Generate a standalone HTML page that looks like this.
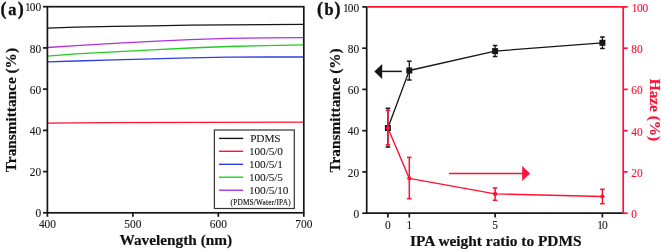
<!DOCTYPE html><html><head><meta charset="utf-8"><style>html,body{margin:0;padding:0;background:#fff;overflow:hidden}svg{display:block;will-change:transform}text{font-family:"Liberation Serif",serif}</style></head><body>
<svg width="661" height="251" viewBox="0 0 661 251">
<rect width="661" height="251" fill="#fff"/>
<polyline points="47.5,123.2 105.0,122.6 200.0,122.4 303.0,122.2" fill="none" stroke="#ff1034" stroke-width="1.3" stroke-linejoin="round"/>
<polyline points="47.4,61.8 76.0,61.0 114.0,59.8 152.0,58.8 190.0,57.9 228.0,57.1 265.0,57.0 303.5,57.0" fill="none" stroke="#3040e0" stroke-width="1.3" stroke-linejoin="round"/>
<polyline points="47.4,56.1 76.0,53.9 114.0,51.8 152.0,49.8 190.0,48.0 228.0,46.5 265.0,45.6 303.5,44.9" fill="none" stroke="#22cc22" stroke-width="1.3" stroke-linejoin="round"/>
<polyline points="47.4,47.5 76.0,45.6 114.0,43.4 152.0,41.4 190.0,39.7 228.0,38.4 265.0,37.9 303.5,37.6" fill="none" stroke="#b030e6" stroke-width="1.3" stroke-linejoin="round"/>
<polyline points="47.4,28.2 76.0,27.2 114.0,26.4 152.0,25.8 190.0,25.2 228.0,24.8 265.0,24.6 303.5,24.4" fill="none" stroke="#161618" stroke-width="1.3" stroke-linejoin="round"/>
<rect x="47.4" y="6.7" width="256.4" height="206.1" fill="none" stroke="#161618" stroke-width="1.7"/>
<line x1="43" y1="212.8" x2="47.4" y2="212.8" stroke="#161618" stroke-width="1.7"/>
<text transform="translate(41.10,217.40) scale(0.94,1)" font-size="12.1" text-anchor="end" fill="#1a1a1a" stroke="#1a1a1a" stroke-width="0.12">0</text>
<line x1="43" y1="171.6" x2="47.4" y2="171.6" stroke="#161618" stroke-width="1.7"/>
<text transform="translate(41.10,176.18) scale(0.94,1)" font-size="12.1" text-anchor="end" fill="#1a1a1a" stroke="#1a1a1a" stroke-width="0.12">20</text>
<line x1="43" y1="130.4" x2="47.4" y2="130.4" stroke="#161618" stroke-width="1.7"/>
<text transform="translate(41.10,134.96) scale(0.94,1)" font-size="12.1" text-anchor="end" fill="#1a1a1a" stroke="#1a1a1a" stroke-width="0.12">40</text>
<line x1="43" y1="89.1" x2="47.4" y2="89.1" stroke="#161618" stroke-width="1.7"/>
<text transform="translate(41.10,93.74) scale(0.94,1)" font-size="12.1" text-anchor="end" fill="#1a1a1a" stroke="#1a1a1a" stroke-width="0.12">60</text>
<line x1="43" y1="47.9" x2="47.4" y2="47.9" stroke="#161618" stroke-width="1.7"/>
<text transform="translate(41.10,52.52) scale(0.94,1)" font-size="12.1" text-anchor="end" fill="#1a1a1a" stroke="#1a1a1a" stroke-width="0.12">80</text>
<line x1="43" y1="6.7" x2="47.4" y2="6.7" stroke="#161618" stroke-width="1.7"/>
<text transform="translate(41.10,11.30) scale(0.94,1)" font-size="12.1" text-anchor="end" fill="#1a1a1a" stroke="#1a1a1a" stroke-width="0.12"><tspan>1</tspan><tspan dx="-0.9">00</tspan></text>
<line x1="47.4" y1="212.8" x2="47.4" y2="216.8" stroke="#161618" stroke-width="1.7"/>
<text transform="translate(47.40,228.10) scale(0.94,1)" font-size="12.1" text-anchor="middle" fill="#1a1a1a" stroke="#1a1a1a" stroke-width="0.12">400</text>
<line x1="132.9" y1="212.8" x2="132.9" y2="216.8" stroke="#161618" stroke-width="1.7"/>
<text transform="translate(132.87,228.10) scale(0.94,1)" font-size="12.1" text-anchor="middle" fill="#1a1a1a" stroke="#1a1a1a" stroke-width="0.12">500</text>
<line x1="218.3" y1="212.8" x2="218.3" y2="216.8" stroke="#161618" stroke-width="1.7"/>
<text transform="translate(218.33,228.10) scale(0.94,1)" font-size="12.1" text-anchor="middle" fill="#1a1a1a" stroke="#1a1a1a" stroke-width="0.12">600</text>
<line x1="303.8" y1="212.8" x2="303.8" y2="216.8" stroke="#161618" stroke-width="1.7"/>
<text transform="translate(303.80,228.10) scale(0.94,1)" font-size="12.1" text-anchor="middle" fill="#1a1a1a" stroke="#1a1a1a" stroke-width="0.12">700</text>
<rect x="214.4" y="130" width="79.9" height="78.5" fill="#fff" stroke="#333" stroke-width="1.2"/>
<line x1="219" y1="138.4" x2="243.2" y2="138.4" stroke="#161618" stroke-width="1.4"/>
<text x="250.2" y="142.1" font-size="11.3" letter-spacing="-0.1" fill="#1a1a1a" stroke="#1a1a1a" stroke-width="0.08">PDMS</text>
<line x1="219" y1="151.3" x2="243.2" y2="151.3" stroke="#ff1034" stroke-width="1.4"/>
<text x="249.0" y="155.0" font-size="11.3" letter-spacing="-0.1" fill="#1a1a1a" stroke="#1a1a1a" stroke-width="0.08">100/5/0</text>
<line x1="219" y1="164.3" x2="243.2" y2="164.3" stroke="#3040e0" stroke-width="1.4"/>
<text x="249.0" y="168.0" font-size="11.3" letter-spacing="-0.1" fill="#1a1a1a" stroke="#1a1a1a" stroke-width="0.08">100/5/1</text>
<line x1="219" y1="177.2" x2="243.2" y2="177.2" stroke="#22cc22" stroke-width="1.4"/>
<text x="249.0" y="180.9" font-size="11.3" letter-spacing="-0.1" fill="#1a1a1a" stroke="#1a1a1a" stroke-width="0.08">100/5/5</text>
<line x1="219" y1="190.2" x2="243.2" y2="190.2" stroke="#b030e6" stroke-width="1.4"/>
<text x="249.0" y="193.9" font-size="11.3" letter-spacing="-0.1" fill="#1a1a1a" stroke="#1a1a1a" stroke-width="0.08">100/5/10</text>
<text x="230.6" y="204.5" font-size="7.3" letter-spacing="0.19" fill="#111" stroke="#111" stroke-width="0.12">(PDMS/Water/IPA)</text>
<text x="175.8" y="245" font-size="15.3" font-weight="bold" text-anchor="middle" fill="#111" stroke="#111" stroke-width="0.2">Wavelength (nm)</text>
<text transform="translate(16,110.1) rotate(-90)" x="0" y="0" font-size="15.3" font-weight="bold" text-anchor="middle" fill="#111" stroke="#111" stroke-width="0.2">Transmittance (%)</text>
<text y="14.5" font-weight="bold" fill="#111" stroke="#111" stroke-width="0.35"><tspan x="0.6" font-size="18">(</tspan><tspan x="8.2" font-size="16.2">a</tspan><tspan x="17.7" font-size="18">)</tspan></text>
<line x1="366.7" y1="213.2" x2="623.2" y2="213.2" stroke="#161618" stroke-width="1.7"/>
<line x1="366.7" y1="6.9" x2="366.7" y2="214.04999999999998" stroke="#161618" stroke-width="1.7"/>
<line x1="366.7" y1="6.9" x2="623.2" y2="6.9" stroke="#ff1034" stroke-width="1.7"/>
<line x1="623.2" y1="6.050000000000001" x2="623.2" y2="214.04999999999998" stroke="#ff1034" stroke-width="1.7"/>
<line x1="362.3" y1="213.2" x2="366.7" y2="213.2" stroke="#161618" stroke-width="1.7"/>
<text transform="translate(359.20,217.80) scale(0.94,1)" font-size="12.1" text-anchor="end" fill="#1a1a1a" stroke="#1a1a1a" stroke-width="0.12">0</text>
<line x1="623.2" y1="213.2" x2="627.7" y2="213.2" stroke="#ff1034" stroke-width="1.7"/>
<text transform="translate(631.20,218.10) scale(0.94,1)" font-size="12.1" text-anchor="start" fill="#ff1034" stroke="#ff1034" stroke-width="0.12">0</text>
<line x1="362.3" y1="171.9" x2="366.7" y2="171.9" stroke="#161618" stroke-width="1.7"/>
<text transform="translate(359.20,176.54) scale(0.94,1)" font-size="12.1" text-anchor="end" fill="#1a1a1a" stroke="#1a1a1a" stroke-width="0.12">20</text>
<line x1="623.2" y1="171.9" x2="627.7" y2="171.9" stroke="#ff1034" stroke-width="1.7"/>
<text transform="translate(631.20,176.84) scale(0.94,1)" font-size="12.1" text-anchor="start" fill="#ff1034" stroke="#ff1034" stroke-width="0.12">20</text>
<line x1="362.3" y1="130.7" x2="366.7" y2="130.7" stroke="#161618" stroke-width="1.7"/>
<text transform="translate(359.20,135.28) scale(0.94,1)" font-size="12.1" text-anchor="end" fill="#1a1a1a" stroke="#1a1a1a" stroke-width="0.12">40</text>
<line x1="623.2" y1="130.7" x2="627.7" y2="130.7" stroke="#ff1034" stroke-width="1.7"/>
<text transform="translate(631.20,135.58) scale(0.94,1)" font-size="12.1" text-anchor="start" fill="#ff1034" stroke="#ff1034" stroke-width="0.12">40</text>
<line x1="362.3" y1="89.4" x2="366.7" y2="89.4" stroke="#161618" stroke-width="1.7"/>
<text transform="translate(359.20,94.02) scale(0.94,1)" font-size="12.1" text-anchor="end" fill="#1a1a1a" stroke="#1a1a1a" stroke-width="0.12">60</text>
<line x1="623.2" y1="89.4" x2="627.7" y2="89.4" stroke="#ff1034" stroke-width="1.7"/>
<text transform="translate(631.20,94.32) scale(0.94,1)" font-size="12.1" text-anchor="start" fill="#ff1034" stroke="#ff1034" stroke-width="0.12">60</text>
<line x1="362.3" y1="48.2" x2="366.7" y2="48.2" stroke="#161618" stroke-width="1.7"/>
<text transform="translate(359.20,52.76) scale(0.94,1)" font-size="12.1" text-anchor="end" fill="#1a1a1a" stroke="#1a1a1a" stroke-width="0.12">80</text>
<line x1="623.2" y1="48.2" x2="627.7" y2="48.2" stroke="#ff1034" stroke-width="1.7"/>
<text transform="translate(631.20,53.06) scale(0.94,1)" font-size="12.1" text-anchor="start" fill="#ff1034" stroke="#ff1034" stroke-width="0.12">80</text>
<line x1="362.3" y1="6.9" x2="366.7" y2="6.9" stroke="#161618" stroke-width="1.7"/>
<text transform="translate(359.20,11.50) scale(0.94,1)" font-size="12.1" text-anchor="end" fill="#1a1a1a" stroke="#1a1a1a" stroke-width="0.12"><tspan>1</tspan><tspan dx="-0.9">00</tspan></text>
<line x1="623.2" y1="6.9" x2="627.7" y2="6.9" stroke="#ff1034" stroke-width="1.7"/>
<text transform="translate(631.20,11.80) scale(0.94,1)" font-size="12.1" text-anchor="start" fill="#ff1034" stroke="#ff1034" stroke-width="0.12"><tspan dx="0.5">1</tspan><tspan dx="-0.5">00</tspan></text>
<line x1="387.9" y1="213.2" x2="387.9" y2="217.5" stroke="#161618" stroke-width="1.7"/>
<text transform="translate(387.90,228.90) scale(0.94,1)" font-size="12.1" text-anchor="middle" fill="#1a1a1a" stroke="#1a1a1a" stroke-width="0.12">0</text>
<line x1="409.3" y1="213.2" x2="409.3" y2="217.5" stroke="#161618" stroke-width="1.7"/>
<text transform="translate(409.35,228.90) scale(0.94,1)" font-size="12.1" text-anchor="middle" fill="#1a1a1a" stroke="#1a1a1a" stroke-width="0.12">1</text>
<line x1="495.1" y1="213.2" x2="495.1" y2="217.5" stroke="#161618" stroke-width="1.7"/>
<text transform="translate(495.15,228.90) scale(0.94,1)" font-size="12.1" text-anchor="middle" fill="#1a1a1a" stroke="#1a1a1a" stroke-width="0.12">5</text>
<line x1="602.4" y1="213.2" x2="602.4" y2="217.5" stroke="#161618" stroke-width="1.7"/>
<text transform="translate(602.40,228.90) scale(0.94,1)" font-size="12.1" text-anchor="middle" fill="#1a1a1a" stroke="#1a1a1a" stroke-width="0.12"><tspan>1</tspan><tspan dx="-0.9">0</tspan></text>
<line x1="387.9" y1="108.3" x2="387.9" y2="147.0" stroke="#161618" stroke-width="1.3"/><line x1="385.6" y1="108.3" x2="390.2" y2="108.3" stroke="#161618" stroke-width="1.5"/><line x1="385.6" y1="147.0" x2="390.2" y2="147.0" stroke="#161618" stroke-width="1.5"/>
<line x1="409.3" y1="61.2" x2="409.3" y2="80.0" stroke="#161618" stroke-width="1.3"/><line x1="407.0" y1="61.2" x2="411.6" y2="61.2" stroke="#161618" stroke-width="1.5"/><line x1="407.0" y1="80.0" x2="411.6" y2="80.0" stroke="#161618" stroke-width="1.5"/>
<line x1="495.1" y1="45.5" x2="495.1" y2="56.5" stroke="#161618" stroke-width="1.3"/><line x1="492.8" y1="45.5" x2="497.4" y2="45.5" stroke="#161618" stroke-width="1.5"/><line x1="492.8" y1="56.5" x2="497.4" y2="56.5" stroke="#161618" stroke-width="1.5"/>
<line x1="602.4" y1="37.0" x2="602.4" y2="48.5" stroke="#161618" stroke-width="1.3"/><line x1="600.1" y1="37.0" x2="604.7" y2="37.0" stroke="#161618" stroke-width="1.5"/><line x1="600.1" y1="48.5" x2="604.7" y2="48.5" stroke="#161618" stroke-width="1.5"/>
<polyline points="387.9,128.0 409.3,70.5 495.1,51.1 602.4,42.8" fill="none" stroke="#161618" stroke-width="1.3" stroke-linejoin="round"/>
<polyline points="387.9,128.0 409.3,178.4 495.1,193.9 602.4,196.5" fill="none" stroke="#ff1034" stroke-width="1.4" stroke-linejoin="round"/>
<rect x="384.9" y="125.0" width="6.0" height="6.0" fill="#161618"/>
<rect x="406.3" y="67.5" width="6.0" height="6.0" fill="#161618"/>
<rect x="492.1" y="48.1" width="6.0" height="6.0" fill="#161618"/>
<rect x="599.4" y="39.8" width="6.0" height="6.0" fill="#161618"/>
<line x1="387.9" y1="110.4" x2="387.9" y2="144.8" stroke="#ff1034" stroke-width="1.5"/><line x1="385.6" y1="110.4" x2="390.2" y2="110.4" stroke="#ff1034" stroke-width="1.5"/><line x1="385.6" y1="144.8" x2="390.2" y2="144.8" stroke="#ff1034" stroke-width="1.5"/>
<line x1="409.3" y1="157.4" x2="409.3" y2="198.7" stroke="#ff1034" stroke-width="1.5"/><line x1="407.0" y1="157.4" x2="411.6" y2="157.4" stroke="#ff1034" stroke-width="1.5"/><line x1="407.0" y1="198.7" x2="411.6" y2="198.7" stroke="#ff1034" stroke-width="1.5"/>
<line x1="495.1" y1="187.9" x2="495.1" y2="200.3" stroke="#ff1034" stroke-width="1.5"/><line x1="492.8" y1="187.9" x2="497.4" y2="187.9" stroke="#ff1034" stroke-width="1.5"/><line x1="492.8" y1="200.3" x2="497.4" y2="200.3" stroke="#ff1034" stroke-width="1.5"/>
<line x1="602.4" y1="189.3" x2="602.4" y2="203.7" stroke="#ff1034" stroke-width="1.5"/><line x1="600.1" y1="189.3" x2="604.7" y2="189.3" stroke="#ff1034" stroke-width="1.5"/><line x1="600.1" y1="203.7" x2="604.7" y2="203.7" stroke="#ff1034" stroke-width="1.5"/>
<circle cx="387.9" cy="128.0" r="2.1" fill="#ff1034"/>
<circle cx="409.3" cy="178.4" r="2.1" fill="#ff1034"/>
<circle cx="495.1" cy="193.9" r="2.1" fill="#ff1034"/>
<circle cx="602.4" cy="196.5" r="2.1" fill="#ff1034"/>
<line x1="381" y1="71.4" x2="401.8" y2="71.4" stroke="#161618" stroke-width="1.5"/>
<polygon points="374.3,71.4 382.2,63.9 382.2,78.9" fill="#161618"/>
<line x1="449.1" y1="173.5" x2="523" y2="173.5" stroke="#ff1034" stroke-width="1.5"/>
<polygon points="530,173.5 522.2,166 522.2,181" fill="#ff1034"/>
<text x="495.8" y="246" font-size="15.4" font-weight="bold" text-anchor="middle" fill="#111" stroke="#111" stroke-width="0.2">IPA weight ratio to PDMS</text>
<text transform="translate(339.7,110.4) rotate(-90)" x="0" y="0" font-size="15.3" font-weight="bold" text-anchor="middle" fill="#111" stroke="#111" stroke-width="0.2">Transmittance (%)</text>
<text transform="translate(649.6,110.0) rotate(90)" x="0" y="0" font-size="15.3" font-weight="bold" text-anchor="middle" fill="#ff1034" stroke="#ff1034" stroke-width="0.2">Haze (%)</text>
<text y="14.5" font-weight="bold" fill="#111" stroke="#111" stroke-width="0.35"><tspan x="316.9" font-size="18">(</tspan><tspan x="324.5" font-size="16.4">b</tspan><tspan x="334.6" font-size="18">)</tspan></text>
</svg></body></html>
